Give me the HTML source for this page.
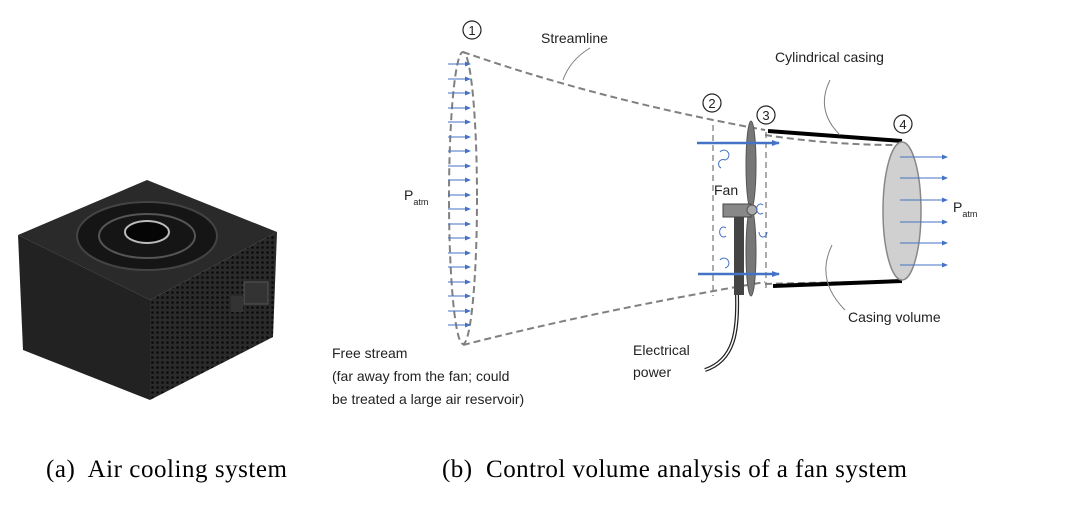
<!DOCTYPE html>
<html><head><meta charset="utf-8"><style>
body{margin:0;background:#fff;}
.s{font-family:"Liberation Sans",sans-serif;}
.cap{font-family:"Liberation Serif",serif;}
</style></head><body>
<svg width="1077" height="526" viewBox="0 0 1077 526" xmlns="http://www.w3.org/2000/svg">
<defs>
<marker id="ab" markerWidth="8" markerHeight="8" refX="7" refY="4" orient="auto" markerUnits="userSpaceOnUse"><path d="M0,1 L8,4 L0,7 Z" fill="#4472c4"/></marker>
<marker id="as" markerWidth="6" markerHeight="6" refX="5" refY="3" orient="auto" markerUnits="userSpaceOnUse"><path d="M0,0.5 L6,3 L0,5.5 Z" fill="#4472c4"/></marker>
<pattern id="mesh" width="5" height="5" patternUnits="userSpaceOnUse"><rect width="5" height="5" fill="#2a2a2a"/><circle cx="2.5" cy="2.5" r="1.3" fill="#0a0a0a"/></pattern>
</defs>
<polygon points="18,235 147,180 277,232 150,300" fill="#2a2a2a"/>
<polygon points="18,235 150,300 150,400 23,350" fill="#222"/>
<polygon points="150,300 277,232 273,337 150,400" fill="url(#mesh)"/>
<ellipse cx="147" cy="236" rx="70" ry="34" fill="#151515" stroke="#444" stroke-width="2"/>
<ellipse cx="147" cy="236" rx="48" ry="22" fill="none" stroke="#555" stroke-width="2"/>
<ellipse cx="147" cy="232" rx="22" ry="11" fill="#050505" stroke="#bbb" stroke-width="2"/>
<rect x="244" y="282" width="24" height="22" fill="#333" stroke="#555"/>
<rect x="231" y="296" width="12" height="16" fill="#333"/>
<g fill="none" stroke="#808080" stroke-width="2" stroke-dasharray="7,4">
<path d="M463,52 Q600,100 765,130"/>
<path d="M463,345 Q600,310 765,282"/>
<ellipse cx="463" cy="198" rx="14" ry="146"/>
<path d="M765,135 Q830,145 898,145"/>
<path d="M765,284 Q830,282 898,282"/>
</g>
<g fill="none" stroke="#808080" stroke-width="1.3" stroke-dasharray="6,4">
<line x1="713" y1="125" x2="713" y2="296"/>
<line x1="766" y1="132" x2="766" y2="290"/>
</g>
<g stroke="#4472c4" stroke-width="1" marker-end="url(#as)">
<line x1="448" y1="64" x2="470" y2="64"/><line x1="448" y1="79" x2="470" y2="79"/><line x1="448" y1="93" x2="470" y2="93"/><line x1="448" y1="108" x2="470" y2="108"/><line x1="448" y1="122" x2="470" y2="122"/><line x1="448" y1="137" x2="470" y2="137"/><line x1="448" y1="151" x2="470" y2="151"/><line x1="448" y1="166" x2="470" y2="166"/><line x1="448" y1="180" x2="470" y2="180"/><line x1="448" y1="195" x2="470" y2="195"/><line x1="448" y1="209" x2="470" y2="209"/><line x1="448" y1="224" x2="470" y2="224"/><line x1="448" y1="238" x2="470" y2="238"/><line x1="448" y1="253" x2="470" y2="253"/><line x1="448" y1="267" x2="470" y2="267"/><line x1="448" y1="282" x2="470" y2="282"/><line x1="448" y1="296" x2="470" y2="296"/><line x1="448" y1="311" x2="470" y2="311"/><line x1="448" y1="325" x2="470" y2="325"/>
</g>
<line x1="768" y1="131" x2="902" y2="141" stroke="#000" stroke-width="4"/>
<line x1="773" y1="286" x2="902" y2="281" stroke="#000" stroke-width="4"/>
<ellipse cx="902" cy="211" rx="19" ry="69" fill="#d0d0d0" stroke="#888" stroke-width="1.5"/>
<g stroke="#4472c4" stroke-width="1" marker-end="url(#as)">
<line x1="900" y1="157" x2="947" y2="157"/><line x1="900" y1="178" x2="947" y2="178"/><line x1="900" y1="200" x2="947" y2="200"/><line x1="900" y1="222" x2="947" y2="222"/><line x1="900" y1="243" x2="947" y2="243"/><line x1="900" y1="265" x2="947" y2="265"/>
</g>
<ellipse cx="751" cy="165" rx="5" ry="44" fill="#777" stroke="#555"/>
<ellipse cx="751" cy="252" rx="5" ry="44" fill="#777" stroke="#555"/>
<rect x="734" y="211" width="10" height="84" fill="#444"/>
<rect x="723" y="204" width="28" height="13" fill="#888" stroke="#444"/>
<circle cx="752" cy="210" r="5" fill="#aaa" stroke="#555"/>
<path d="M737,295 C738,330 735,360 705,370" fill="none" stroke="#222" stroke-width="4"/>
<path d="M737,295 C738,330 735,360 705,370" fill="none" stroke="#fff" stroke-width="1.5"/>
<line x1="697" y1="143" x2="779" y2="143" stroke="#4472c4" stroke-width="2.5" marker-end="url(#ab)"/>
<line x1="698" y1="274" x2="779" y2="274" stroke="#4472c4" stroke-width="2.5" marker-end="url(#ab)"/>
<g fill="none" stroke="#4472c4" stroke-width="1"><path d="M720,152 a5,5 0 1 1 5,8 a4,4 0 1 0 -4,8"/><path d="M720,260 a5,5 0 1 1 5,8"/><path d="M726,228 a4,5 0 1 0 0,8"/><path d="M763,205 a4,5 0 1 0 0,8"/><path d="M759,232 a4,5 0 0 0 8,0"/></g>
<path d="M590,48 Q570,60 563,80" fill="none" stroke="#808080"/>
<path d="M830,80 Q815,110 840,135" fill="none" stroke="#808080"/>
<path d="M832,245 Q815,280 845,310" fill="none" stroke="#808080"/>
<g font-size="14" fill="#222">
<text class="s" x="541" y="43">Streamline</text>
<text class="s" x="775" y="62">Cylindrical casing</text>
<text class="s" x="714" y="195">Fan</text>
<text class="s" x="848" y="322">Casing volume</text>
<text class="s" x="633" y="355">Electrical</text>
<text class="s" x="633" y="377">power</text>
<text class="s" x="332" y="358">Free stream</text>
<text class="s" x="332" y="381">(far away from the fan; could</text>
<text class="s" x="332" y="404">be treated a large air reservoir)</text>
<text class="s" x="404" y="200">P<tspan font-size="9" dy="5">atm</tspan></text>
<text class="s" x="953" y="212">P<tspan font-size="9" dy="5">atm</tspan></text>
</g>
<g fill="none" stroke="#222" stroke-width="1.2"><circle cx="472" cy="30" r="9"/><circle cx="712" cy="103" r="9"/><circle cx="766" cy="115" r="9"/><circle cx="903" cy="124" r="9"/></g>
<g font-size="13" fill="#222" text-anchor="middle"><text class="s" x="472" y="35">1</text><text class="s" x="712" y="108">2</text><text class="s" x="766" y="120">3</text><text class="s" x="903" y="129">4</text></g>
<text class="cap" x="46" y="477" font-size="25" fill="#000" xml:space="preserve" textLength="241">(a)  Air cooling system</text>
<text class="cap" x="442" y="477" font-size="25" fill="#000" xml:space="preserve" textLength="465">(b)  Control volume analysis of a fan system</text>
</svg>
</body></html>
